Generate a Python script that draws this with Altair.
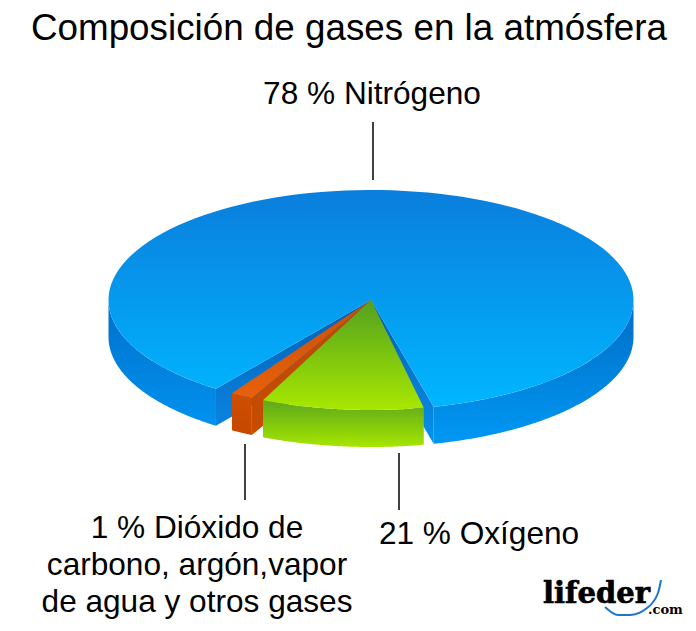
import numpy as np
import pandas as pd
import altair as alt

# --- chart content ---
TITLE = "Composición de gases en la atmósfera"
shares = [78, 21, 1]
names = ["Nitrógeno", "Oxígeno", "Dióxido de"]
extra_lines = ["carbono, argón,vapor", "de agua y otros gases"]

# Slice boundaries as drawn, degrees measured from "straight down", + = to the right
blue_from, blue_to = 13.8, 323.8      # sweeps through right, top, left
green_from, green_to = -24.3, 11.6
orange_from, orange_to = -32.0, -27.0

# Pie drawn in the reference's pixel space
CX, CY, RX, RY, DEPTH = 371.0, 300.0, 262.5, 110.0, 37.0
W, H = 680, 564
M = 8
TOP = 59  # reference-pixel y of the plot area's top edge, below the title


def rim(a0, a1, n=120, dy=0.0):
    t = np.radians(np.linspace(a0, a1, n))
    return list(zip(CX + RX * np.sin(t), CY + RY * np.cos(t) + dy))


def grad(stops):
    return alt.Gradient(
        gradient="linear", x1=0, x2=0, y1=0, y2=1,
        stops=[alt.GradientStop(color=c, offset=o) for o, c in stops],
    )


xs = alt.Scale(domain=[M, M + W], nice=False, zero=False)
ys = alt.Scale(domain=[TOP + H, TOP], nice=False, zero=False)


def poly(points, stops):
    df = pd.DataFrame({"x": [p[0] for p in points], "y": [p[1] for p in points],
                       "i": range(len(points))})
    return alt.Chart(df).mark_line(
        interpolate="linear-closed", fill=grad(stops), strokeWidth=0, stroke="transparent"
    ).encode(
        x=alt.X("x:Q", scale=xs, axis=None),
        y=alt.Y("y:Q", scale=ys, axis=None),
        order="i:Q",
    )


def top_face(a0, a1, stops):
    return poly([(CX, CY)] + rim(a0, a1), stops)


def wall(a0, a1, stops):
    return poly(rim(a0, a1) + rim(a1, a0, dy=DEPTH), stops)


def cut(a, stops):
    p = rim(a, a, n=1)[0]
    return poly([(CX, CY), p, (p[0], p[1] + DEPTH), (CX, CY + DEPTH)], stops)


layers = [
    # blue slice
    wall(blue_from, 90, [(0, "#006cc4"), (1, "#0098f4")]),
    wall(270, blue_to, [(0, "#0070cc"), (1, "#0092ee")]),
    cut(blue_from, [(0, "#005fae"), (0.7, "#0a80d8"), (1, "#0094ee")]),
    cut(blue_to, [(0, "#005fb4"), (1, "#0a84e0")]),
    top_face(blue_from, blue_to, [(0, "#0a7edc"), (1, "#00b6ff")]),
    # orange slice
    wall(orange_from, orange_to, [(0, "#d04e00"), (1, "#c44800")]),
    cut(orange_to, [(0, "#b84a08"), (1, "#c84c00")]),
    top_face(orange_from, orange_to, [(0, "#c85008"), (1, "#e8600a")]),
    # green slice
    wall(green_from, green_to, [(0, "#5ca81c"), (1, "#a6e600")]),
    top_face(green_from, green_to, [(0, "#52a020"), (1, "#a8e800")]),
]

# leader lines
rule_x = [373, 245, 399]
rule_y = [122, 444, 453]
rule_y2 = [180, 500, 510]
rules = alt.Chart(pd.DataFrame({"x": rule_x, "y": rule_y, "y2": rule_y2})).mark_rule(
    color="#111111", strokeWidth=1.6
).encode(
    x=alt.X("x:Q", scale=xs, axis=None),
    y=alt.Y("y:Q", scale=ys, axis=None),
    y2="y2:Q",
)
layers.append(rules)

# labels
label_text = [
    f"{shares[0]} % {names[0]}",
    f"{shares[1]} % {names[1]}",
    f"{shares[2]} % {names[2]}",
    extra_lines[0],
    extra_lines[1],
]
label_x = [372, 479, 197, 197, 197]
label_y = [94.5, 534.5, 528.5, 565.5, 602.5]
labels = alt.Chart(pd.DataFrame({"t": label_text, "x": label_x, "y": label_y})).mark_text(
    font="Liberation Sans", fontSize=31.6, color="#000000", align="center", baseline="middle"
).encode(
    x=alt.X("x:Q", scale=xs, axis=None),
    y=alt.Y("y:Q", scale=ys, axis=None),
    text="t:N",
)
layers.append(labels)

# logo
swoosh_x = [605, 618, 630, 647, 658, 661]
swoosh_y = [607, 615, 615, 608, 593, 580]
swoosh = alt.Chart(pd.DataFrame({"x": swoosh_x, "y": swoosh_y, "i": range(6)})).mark_line(
    color="#1a78d0", strokeWidth=2, interpolate="monotone"
).encode(
    x=alt.X("x:Q", scale=xs, axis=None),
    y=alt.Y("y:Q", scale=ys, axis=None),
    order="i:Q",
)
layers.append(swoosh)

logo_big = alt.Chart(pd.DataFrame({"t": ["lifeder"], "x": [543], "y": [603]})).mark_text(
    font="DejaVu Serif", fontWeight="bold", fontSize=29, color="#000000",
    stroke="#000000", strokeWidth=0.7, align="left", baseline="alphabetic",
).encode(x=alt.X("x:Q", scale=xs, axis=None), y=alt.Y("y:Q", scale=ys, axis=None), text="t:N")
logo_small = alt.Chart(pd.DataFrame({"t": [".com"], "x": [648], "y": [614]})).mark_text(
    font="DejaVu Serif", fontWeight="bold", fontSize=13, color="#000000",
    align="left", baseline="alphabetic",
).encode(x=alt.X("x:Q", scale=xs, axis=None), y=alt.Y("y:Q", scale=ys, axis=None), text="t:N")
layers += [logo_big, logo_small]

chart = alt.layer(*layers).properties(
    width=W, height=H,
    padding={"left": 0, "top": 3, "right": 0, "bottom": 0},
    title=alt.TitleParams(
        TITLE, font="Liberation Sans", fontSize=36.8, fontWeight="normal", color="#000000",
        anchor="middle", offset=11, dx=1, limit=670,
    ),
    background="white",
).configure_view(stroke=None)

chart.save("out.html", embed_options={"renderer": "svg", "actions": False})
